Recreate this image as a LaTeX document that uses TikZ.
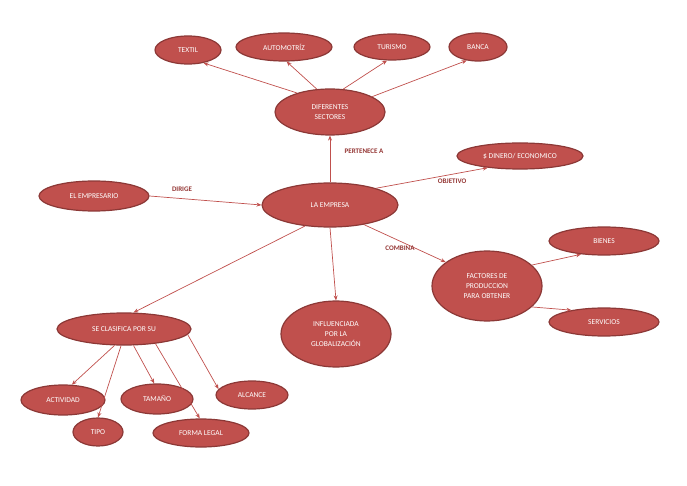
\documentclass[tikz,border=0pt]{standalone}
\usepackage{fontspec}
\setmainfont{Carlito}
\definecolor{fillr}{HTML}{C0504D}
\definecolor{edger}{HTML}{8C3836}
\definecolor{labr}{HTML}{943634}
\tikzset{
 el/.style={ellipse,draw=edger,line width=1.2pt,fill=fillr,text=white,inner sep=0pt,font=\fontsize{7.5}{10}\selectfont,align=center},
 arr/.style={draw=fillr,line width=0.7pt,-{Stealth[length=5pt,width=4pt]}},
 lab/.style={text=labr,font=\fontsize{7}{8}\selectfont\bfseries}
}
\usetikzlibrary{shapes.geometric,arrows.meta}
\begin{document}
\begin{tikzpicture}[x=1pt,y=-1pt]
\useasboundingbox (0,0) rectangle (687,486);
\def\E#1#2#3#4#5{\node[el,minimum width=#3pt,minimum height=#4pt] (#1) at #2 {#5};}
\E{tex}{(188,50)}{66}{28}{TEXTIL}
\E{aut}{(284,47)}{96}{28}{AUTOMOTRÍZ}
\E{tur}{(392,47)}{76}{26}{TURISMO}
\E{ban}{(478,47)}{58}{28}{BANCA}
\E{sec}{(330,112)}{110}{46}{DIFERENTES\\SECTORES}
\E{din}{(520,156)}{126}{26}{\$ DINERO/ ECONOMICO}
\E{emp}{(94,196)}{110}{30}{EL EMPRESARIO}
\E{lae}{(330,205)}{136}{44}{LA EMPRESA}
\E{bie}{(604,241)}{110}{28}{BIENES}
\E{fac}{(487,286)}{110}{70}{FACTORES  DE\\PRODUCCION\\PARA OBTENER}
\E{ser}{(604,322)}{110}{28}{SERVICIOS}
\E{cla}{(124,329)}{134}{32}{SE CLASIFICA POR SU}
\E{inf}{(336,334)}{110}{66}{INFLUENCIADA\\POR LA\\GLOBALIZACIÓN}
\E{act}{(63,400)}{84}{30}{ACTIVIDAD}
\E{tam}{(157,399)}{72}{30}{TAMAÑO}
\E{alc}{(252,395)}{72}{28}{ALCANCE}
\E{tip}{(98,432)}{50}{28}{TIPO}
\E{for}{(201,433)}{96}{28}{FORMA LEGAL}
\draw[arr] (sec.150) -- (tex.-40);
\draw[arr] (sec.120) -- (aut.-80);
\draw[arr] (sec.60) -- (tur.-110);
\draw[arr] (sec.20) -- (ban.-130);
\draw[arr] (lae.north) -- (sec.south);
\draw[arr] (lae.20) -- (din.-160);
\draw[arr] (emp.east) -- (lae.west);
\draw[arr] (lae.-30) -- (fac.150);
\draw[arr] (lae.-140) -- (cla.60);
\draw[arr] (lae.south) -- (inf.north);
\draw[arr] (fac.25) -- (bie.-150);
\draw[arr] (fac.-25) -- (ser.160);
\draw[arr] (cla.-120) -- (act.60);
\draw[arr] (cla.-100) -- (tip.north);
\draw[arr] (cla.-60) -- (tam.100);
\draw[arr] (cla.-25) -- (for.95);
\draw[arr] (cla.-5) -- (alc.170);
\node[lab] (l1) at (364,151) {PERTENECE  A};
\node[lab] (l2) at (452,181) {OBJETIVO};
\node[lab] (l3) at (182,189) {DIRIGE};
\node[lab] (l4) at (400,248) {COMBINA};
\end{tikzpicture}
\end{document}
